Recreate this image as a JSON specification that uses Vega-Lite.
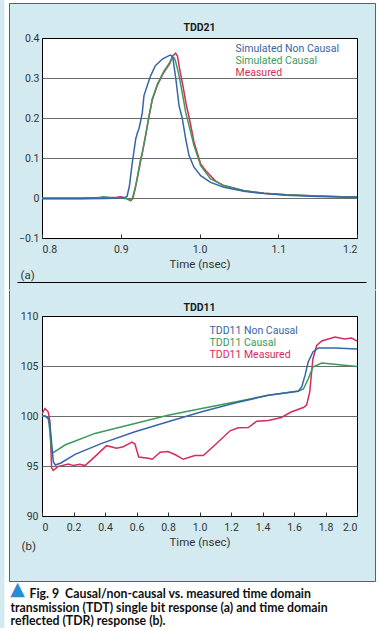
{
  "$schema": "https://vega.github.io/schema/vega-lite/v6.json",
  "background": "#d3ebf0",
  "padding": 0,
  "spacing": 78,
  "bounds": "flush",
  "resolve": {"scale": {"color": "independent"}, "legend": {"color": "independent"}},
  "config": {
    "view": {"fill": "white", "stroke": "black", "strokeWidth": 1},
    "font": "Roboto",
    "axis": {"labelFont": "Roboto", "labelFontSize": 10.5, "labelColor": "#333", "titleFont": "Roboto", "titleFontSize": 11.5, "titleFontWeight": "normal", "titleColor": "#333", "gridColor": "#6b6b6b", "domainCap": "butt"},
    "title": {"font": "Roboto", "fontSize": 10.5, "fontWeight": "bold", "color": "#1a1a1a", "offset": -33, "frame": "group"},
    "legend": {"labelFont": "Roboto", "labelFontSize": 10.5}
  },
  "datasets": {
    "tdd21": [
      {"series": "Measured", "t": 0.80, "v": 0.0},
      {"series": "Measured", "t": 0.85, "v": 0.0},
      {"series": "Measured", "t": 0.88, "v": 0.001},
      {"series": "Measured", "t": 0.895, "v": 0.002},
      {"series": "Measured", "t": 0.90, "v": 0.003},
      {"series": "Measured", "t": 0.905, "v": 0.001},
      {"series": "Measured", "t": 0.91, "v": -0.004},
      {"series": "Measured", "t": 0.9126, "v": -0.007},
      {"series": "Measured", "t": 0.915, "v": -0.002},
      {"series": "Measured", "t": 0.917, "v": 0.012},
      {"series": "Measured", "t": 0.919, "v": 0.03},
      {"series": "Measured", "t": 0.923, "v": 0.07},
      {"series": "Measured", "t": 0.9274, "v": 0.113},
      {"series": "Measured", "t": 0.930, "v": 0.14},
      {"series": "Measured", "t": 0.9316, "v": 0.158},
      {"series": "Measured", "t": 0.936, "v": 0.205},
      {"series": "Measured", "t": 0.940, "v": 0.245},
      {"series": "Measured", "t": 0.9465, "v": 0.282},
      {"series": "Measured", "t": 0.955, "v": 0.315},
      {"series": "Measured", "t": 0.962, "v": 0.335},
      {"series": "Measured", "t": 0.966, "v": 0.355},
      {"series": "Measured", "t": 0.9697, "v": 0.362},
      {"series": "Measured", "t": 0.972, "v": 0.355},
      {"series": "Measured", "t": 0.975, "v": 0.32},
      {"series": "Measured", "t": 0.979, "v": 0.28},
      {"series": "Measured", "t": 0.983, "v": 0.235},
      {"series": "Measured", "t": 0.987, "v": 0.2},
      {"series": "Measured", "t": 0.993, "v": 0.14},
      {"series": "Measured", "t": 1.0015, "v": 0.085},
      {"series": "Measured", "t": 1.008, "v": 0.068},
      {"series": "Measured", "t": 1.012, "v": 0.06},
      {"series": "Measured", "t": 1.02, "v": 0.043},
      {"series": "Measured", "t": 1.031, "v": 0.031},
      {"series": "Measured", "t": 1.0565, "v": 0.018},
      {"series": "Measured", "t": 1.082, "v": 0.012},
      {"series": "Measured", "t": 1.11, "v": 0.008},
      {"series": "Measured", "t": 1.15, "v": 0.005},
      {"series": "Measured", "t": 1.2, "v": 0.002},
      {"series": "Simulated Causal", "t": 0.80, "v": -0.001},
      {"series": "Simulated Causal", "t": 0.85, "v": -0.001},
      {"series": "Simulated Causal", "t": 0.87, "v": 0.0},
      {"series": "Simulated Causal", "t": 0.878, "v": 0.003},
      {"series": "Simulated Causal", "t": 0.885, "v": 0.001},
      {"series": "Simulated Causal", "t": 0.90, "v": 0.0},
      {"series": "Simulated Causal", "t": 0.908, "v": -0.002},
      {"series": "Simulated Causal", "t": 0.9126, "v": -0.006},
      {"series": "Simulated Causal", "t": 0.915, "v": 0.0},
      {"series": "Simulated Causal", "t": 0.917, "v": 0.015},
      {"series": "Simulated Causal", "t": 0.919, "v": 0.031},
      {"series": "Simulated Causal", "t": 0.921, "v": 0.05},
      {"series": "Simulated Causal", "t": 0.923, "v": 0.0725},
      {"series": "Simulated Causal", "t": 0.925, "v": 0.095},
      {"series": "Simulated Causal", "t": 0.9274, "v": 0.114},
      {"series": "Simulated Causal", "t": 0.9316, "v": 0.156},
      {"series": "Simulated Causal", "t": 0.936, "v": 0.206},
      {"series": "Simulated Causal", "t": 0.940, "v": 0.2475},
      {"series": "Simulated Causal", "t": 0.9465, "v": 0.285},
      {"series": "Simulated Causal", "t": 0.955, "v": 0.318},
      {"series": "Simulated Causal", "t": 0.961, "v": 0.335},
      {"series": "Simulated Causal", "t": 0.9655, "v": 0.352},
      {"series": "Simulated Causal", "t": 0.968, "v": 0.35},
      {"series": "Simulated Causal", "t": 0.970, "v": 0.339},
      {"series": "Simulated Causal", "t": 0.974, "v": 0.306},
      {"series": "Simulated Causal", "t": 0.978, "v": 0.264},
      {"series": "Simulated Causal", "t": 0.9825, "v": 0.214},
      {"series": "Simulated Causal", "t": 0.9867, "v": 0.181},
      {"series": "Simulated Causal", "t": 0.993, "v": 0.131},
      {"series": "Simulated Causal", "t": 1.0015, "v": 0.081},
      {"series": "Simulated Causal", "t": 1.014, "v": 0.0475},
      {"series": "Simulated Causal", "t": 1.031, "v": 0.031},
      {"series": "Simulated Causal", "t": 1.0565, "v": 0.018},
      {"series": "Simulated Causal", "t": 1.082, "v": 0.012},
      {"series": "Simulated Causal", "t": 1.11, "v": 0.008},
      {"series": "Simulated Causal", "t": 1.15, "v": 0.005},
      {"series": "Simulated Causal", "t": 1.2, "v": 0.002},
      {"series": "Simulated Non Causal", "t": 0.80, "v": -0.002},
      {"series": "Simulated Non Causal", "t": 0.85, "v": -0.002},
      {"series": "Simulated Non Causal", "t": 0.88, "v": -0.001},
      {"series": "Simulated Non Causal", "t": 0.90, "v": 0.0},
      {"series": "Simulated Non Causal", "t": 0.905, "v": 0.001},
      {"series": "Simulated Non Causal", "t": 0.908, "v": 0.004},
      {"series": "Simulated Non Causal", "t": 0.911, "v": 0.03},
      {"series": "Simulated Non Causal", "t": 0.9126, "v": 0.056},
      {"series": "Simulated Non Causal", "t": 0.9147, "v": 0.089},
      {"series": "Simulated Non Causal", "t": 0.917, "v": 0.12},
      {"series": "Simulated Non Causal", "t": 0.919, "v": 0.1475},
      {"series": "Simulated Non Causal", "t": 0.921, "v": 0.162},
      {"series": "Simulated Non Causal", "t": 0.923, "v": 0.1725},
      {"series": "Simulated Non Causal", "t": 0.925, "v": 0.19},
      {"series": "Simulated Non Causal", "t": 0.9274, "v": 0.214},
      {"series": "Simulated Non Causal", "t": 0.9295, "v": 0.256},
      {"series": "Simulated Non Causal", "t": 0.9337, "v": 0.281},
      {"series": "Simulated Non Causal", "t": 0.938, "v": 0.306},
      {"series": "Simulated Non Causal", "t": 0.944, "v": 0.331},
      {"series": "Simulated Non Causal", "t": 0.9528, "v": 0.3475},
      {"series": "Simulated Non Causal", "t": 0.9613, "v": 0.356},
      {"series": "Simulated Non Causal", "t": 0.9634, "v": 0.3575},
      {"series": "Simulated Non Causal", "t": 0.966, "v": 0.352},
      {"series": "Simulated Non Causal", "t": 0.968, "v": 0.325},
      {"series": "Simulated Non Causal", "t": 0.970, "v": 0.2975},
      {"series": "Simulated Non Causal", "t": 0.974, "v": 0.231},
      {"series": "Simulated Non Causal", "t": 0.978, "v": 0.2},
      {"series": "Simulated Non Causal", "t": 0.9825, "v": 0.1475},
      {"series": "Simulated Non Causal", "t": 0.9867, "v": 0.106},
      {"series": "Simulated Non Causal", "t": 0.993, "v": 0.077},
      {"series": "Simulated Non Causal", "t": 1.0015, "v": 0.056},
      {"series": "Simulated Non Causal", "t": 1.014, "v": 0.039},
      {"series": "Simulated Non Causal", "t": 1.031, "v": 0.027},
      {"series": "Simulated Non Causal", "t": 1.0565, "v": 0.017},
      {"series": "Simulated Non Causal", "t": 1.082, "v": 0.011},
      {"series": "Simulated Non Causal", "t": 1.11, "v": 0.007},
      {"series": "Simulated Non Causal", "t": 1.15, "v": 0.004},
      {"series": "Simulated Non Causal", "t": 1.2, "v": 0.002}
    ],
    "tdd11": [
      {"series": "TDD11 Measured", "t": 0, "v": 100.2},
      {"series": "TDD11 Measured", "t": 0.019, "v": 100.75},
      {"series": "TDD11 Measured", "t": 0.04, "v": 100.4},
      {"series": "TDD11 Measured", "t": 0.05, "v": 99.5},
      {"series": "TDD11 Measured", "t": 0.061, "v": 94.8},
      {"series": "TDD11 Measured", "t": 0.072, "v": 94.55},
      {"series": "TDD11 Measured", "t": 0.10, "v": 94.94},
      {"series": "TDD11 Measured", "t": 0.167, "v": 95.2},
      {"series": "TDD11 Measured", "t": 0.2, "v": 95.04},
      {"series": "TDD11 Measured", "t": 0.24, "v": 95.17},
      {"series": "TDD11 Measured", "t": 0.273, "v": 95.04},
      {"series": "TDD11 Measured", "t": 0.336, "v": 95.94},
      {"series": "TDD11 Measured", "t": 0.41, "v": 97.03},
      {"series": "TDD11 Measured", "t": 0.474, "v": 96.77},
      {"series": "TDD11 Measured", "t": 0.516, "v": 96.93},
      {"series": "TDD11 Measured", "t": 0.571, "v": 97.38},
      {"series": "TDD11 Measured", "t": 0.59, "v": 97.2},
      {"series": "TDD11 Measured", "t": 0.614, "v": 95.9},
      {"series": "TDD11 Measured", "t": 0.675, "v": 95.77},
      {"series": "TDD11 Measured", "t": 0.70, "v": 95.67},
      {"series": "TDD11 Measured", "t": 0.75, "v": 96.37},
      {"series": "TDD11 Measured", "t": 0.80, "v": 96.44},
      {"series": "TDD11 Measured", "t": 0.85, "v": 96.1},
      {"series": "TDD11 Measured", "t": 0.897, "v": 95.67},
      {"series": "TDD11 Measured", "t": 0.97, "v": 96.04},
      {"series": "TDD11 Measured", "t": 1.024, "v": 96.04},
      {"series": "TDD11 Measured", "t": 1.098, "v": 97.1},
      {"series": "TDD11 Measured", "t": 1.194, "v": 98.52},
      {"series": "TDD11 Measured", "t": 1.246, "v": 98.82},
      {"series": "TDD11 Measured", "t": 1.31, "v": 98.85},
      {"series": "TDD11 Measured", "t": 1.363, "v": 99.48},
      {"series": "TDD11 Measured", "t": 1.437, "v": 99.55},
      {"series": "TDD11 Measured", "t": 1.52, "v": 99.85},
      {"series": "TDD11 Measured", "t": 1.585, "v": 100.42},
      {"series": "TDD11 Measured", "t": 1.66, "v": 100.85},
      {"series": "TDD11 Measured", "t": 1.68, "v": 101.1},
      {"series": "TDD11 Measured", "t": 1.70, "v": 102.4},
      {"series": "TDD11 Measured", "t": 1.72, "v": 105.7},
      {"series": "TDD11 Measured", "t": 1.744, "v": 107.05},
      {"series": "TDD11 Measured", "t": 1.776, "v": 107.5},
      {"series": "TDD11 Measured", "t": 1.86, "v": 107.9},
      {"series": "TDD11 Measured", "t": 1.92, "v": 107.7},
      {"series": "TDD11 Measured", "t": 1.966, "v": 107.8},
      {"series": "TDD11 Measured", "t": 2.0, "v": 107.5},
      {"series": "TDD11 Causal", "t": 0, "v": 100.0},
      {"series": "TDD11 Causal", "t": 0.02, "v": 100.0},
      {"series": "TDD11 Causal", "t": 0.04, "v": 99.7},
      {"series": "TDD11 Causal", "t": 0.05, "v": 98.5},
      {"series": "TDD11 Causal", "t": 0.061, "v": 96.44},
      {"series": "TDD11 Causal", "t": 0.072, "v": 96.34},
      {"series": "TDD11 Causal", "t": 0.146, "v": 97.1},
      {"series": "TDD11 Causal", "t": 0.336, "v": 98.26},
      {"series": "TDD11 Causal", "t": 0.59, "v": 99.25},
      {"series": "TDD11 Causal", "t": 0.80, "v": 100.08},
      {"series": "TDD11 Causal", "t": 1.014, "v": 100.75},
      {"series": "TDD11 Causal", "t": 1.225, "v": 101.41},
      {"series": "TDD11 Causal", "t": 1.437, "v": 102.07},
      {"series": "TDD11 Causal", "t": 1.627, "v": 102.5},
      {"series": "TDD11 Causal", "t": 1.66, "v": 102.7},
      {"series": "TDD11 Causal", "t": 1.69, "v": 103.7},
      {"series": "TDD11 Causal", "t": 1.72, "v": 104.9},
      {"series": "TDD11 Causal", "t": 1.776, "v": 105.3},
      {"series": "TDD11 Causal", "t": 1.84, "v": 105.2},
      {"series": "TDD11 Causal", "t": 2.0, "v": 104.96},
      {"series": "TDD11 Non Causal", "t": 0, "v": 100.0},
      {"series": "TDD11 Non Causal", "t": 0.02, "v": 100.0},
      {"series": "TDD11 Non Causal", "t": 0.04, "v": 99.8},
      {"series": "TDD11 Non Causal", "t": 0.05, "v": 99.2},
      {"series": "TDD11 Non Causal", "t": 0.06, "v": 97.5},
      {"series": "TDD11 Non Causal", "t": 0.072, "v": 95.4},
      {"series": "TDD11 Non Causal", "t": 0.085, "v": 95.1},
      {"series": "TDD11 Non Causal", "t": 0.12, "v": 95.3},
      {"series": "TDD11 Non Causal", "t": 0.21, "v": 96.17},
      {"series": "TDD11 Non Causal", "t": 0.379, "v": 97.26},
      {"series": "TDD11 Non Causal", "t": 0.59, "v": 98.43},
      {"series": "TDD11 Non Causal", "t": 0.80, "v": 99.42},
      {"series": "TDD11 Non Causal", "t": 1.014, "v": 100.42},
      {"series": "TDD11 Non Causal", "t": 1.225, "v": 101.3},
      {"series": "TDD11 Non Causal", "t": 1.437, "v": 102.07},
      {"series": "TDD11 Non Causal", "t": 1.627, "v": 102.47},
      {"series": "TDD11 Non Causal", "t": 1.649, "v": 102.9},
      {"series": "TDD11 Non Causal", "t": 1.67, "v": 104.06},
      {"series": "TDD11 Non Causal", "t": 1.69, "v": 105.4},
      {"series": "TDD11 Non Causal", "t": 1.72, "v": 106.4},
      {"series": "TDD11 Non Causal", "t": 1.755, "v": 106.8},
      {"series": "TDD11 Non Causal", "t": 1.86, "v": 106.8},
      {"series": "TDD11 Non Causal", "t": 2.0, "v": 106.7}
    ]
  },
  "vconcat": [
    {
      "width": 315,
      "height": 200,
      "title": {"text": "TDD21"},
      "layer": [
        {
          "data": {"name": "tdd21"},
          "mark": {"type": "line", "strokeWidth": 1.5, "clip": true},
          "encoding": {
            "x": {"field": "t", "type": "quantitative", "scale": {"domain": [0.8, 1.2], "nice": false, "zero": false},
              "axis": {"values": [0.8, 0.9, 1.0, 1.1, 1.2], "format": ".1f", "title": "Time (nsec)", "grid": false, "domain": false, "tickSize": -4, "tickColor": "#333", "labelPadding": 10, "titlePadding": 4}},
            "y": {"field": "v", "type": "quantitative", "scale": {"domain": [-0.1, 0.4], "nice": false, "zero": false},
              "axis": {"values": [-0.1, 0, 0.1, 0.2, 0.3, 0.4], "labelExpr": "datum.value === 0 ? '0' : format(datum.value, '.1f')", "grid": true,
                "gridColor": {"condition": {"test": "datum.value < -0.05 || datum.value > 0.35", "value": "black"}, "value": "#6b6b6b"},
                "ticks": false, "domain": false, "labelPadding": 3, "title": "(a)", "titleAngle": 0, "titleAlign": "left", "titleBaseline": "middle", "titleX": -22, "titleY": 237}},
            "color": {"field": "series", "type": "nominal",
              "scale": {"domain": ["Simulated Non Causal", "Simulated Causal", "Measured"], "range": ["#3566a8", "#3c9a5a", "#d42c5c"]},
              "legend": {"orient": "none", "legendX": 183, "legendY": 6, "title": null, "symbolSize": 0, "symbolStrokeWidth": 0, "symbolOpacity": 0, "labelOffset": 0, "rowPadding": 1, "padding": 0, "labelLimit": 300,
                "encode": {"labels": {"update": {"fill": {"signal": "datum.value === 'Measured' ? '#d42c5c' : datum.value === 'Simulated Causal' ? '#3c9a5a' : '#3566a8'"}}}}}}
          }
        },
        {
          "data": {"values": [{}]},
          "mark": {"type": "point", "opacity": 0},
          "encoding": {
            "x": {"datum": 0, "type": "quantitative", "scale": {"domain": [0, 1], "range": [-33, 333]},
              "axis": {"orient": "top", "offset": 35, "labels": false, "ticks": false, "grid": false, "title": null, "domainColor": "#b03a4e", "domainWidth": 1}},
            "y": {"datum": 0, "type": "quantitative", "scale": {"domain": [0, 1], "range": [251, -35]},
              "axis": {"orient": "left", "offset": 33, "labels": false, "ticks": false, "grid": false, "title": null, "domainColor": "#b03a4e", "domainWidth": 1}}
          }
        },
        {
          "data": {"values": [{}]},
          "mark": {"type": "point", "opacity": 0},
          "encoding": {
            "x": {"datum": 0, "type": "quantitative", "scale": {"domain": [0, 1], "range": [-25, 324]},
              "axis": {"orient": "bottom", "offset": 44, "labels": false, "ticks": false, "grid": false, "title": null, "domainColor": "black", "domainWidth": 1}},
            "y": {"datum": 0, "type": "quantitative", "scale": {"domain": [0, 1], "range": [251, -35]},
              "axis": {"orient": "right", "offset": 18, "labels": false, "ticks": false, "grid": false, "title": null, "domainColor": "#b03a4e", "domainWidth": 1}}
          }
        },
        {
          "data": {"values": [{}]},
          "mark": {"type": "point", "opacity": 0},
          "encoding": {
            "x": {"datum": 0, "type": "quantitative", "scale": {"domain": [0, 1], "range": [-38, 341]},
              "axis": {"orient": "top", "offset": 37.25, "labels": false, "ticks": false, "grid": false, "title": null, "domainColor": "white", "domainWidth": 3.5}},
            "y": {"datum": 0, "type": "quantitative", "scale": {"domain": [0, 1], "range": [251, -39]},
              "axis": {"orient": "left", "offset": 35.75, "labels": false, "ticks": false, "grid": false, "title": null, "domainColor": "white", "domainWidth": 4.5}}
          }
        },
        {
          "data": {"values": [{}]},
          "mark": {"type": "point", "opacity": 0},
          "encoding": {
            "y": {"datum": 0, "type": "quantitative", "scale": {"domain": [0, 1], "range": [251, -39]},
              "axis": {"orient": "right", "offset": 22.25, "labels": false, "ticks": false, "grid": false, "title": null, "domainColor": "white", "domainWidth": 7.5}}
          }
        }
      ],
      "resolve": {"scale": {"x": "independent", "y": "independent"}, "axis": {"x": "independent", "y": "independent"}}
    },
    {
      "width": 315,
      "height": 200,
      "title": {"text": "TDD11", "offset": -2},
      "layer": [
        {
          "data": {"name": "tdd11"},
          "mark": {"type": "line", "strokeWidth": 1.5, "clip": true},
          "encoding": {
            "x": {"field": "t", "type": "quantitative", "scale": {"domain": [0, 2], "nice": false, "zero": false},
              "axis": {"values": [0, 0.2, 0.4, 0.6, 0.8, 1.0, 1.2, 1.4, 1.6, 1.8, 2.0], "labelExpr": "datum.value === 0 ? '0' : format(datum.value, '.1f')", "title": "Time (nsec)", "grid": false, "domain": false, "tickSize": -4, "tickColor": "#333", "labelPadding": 10, "titlePadding": 4}},
            "y": {"field": "v", "type": "quantitative", "scale": {"domain": [90, 110], "nice": false, "zero": false},
              "axis": {"values": [90, 95, 100, 105, 110], "grid": true,
                "gridColor": {"condition": {"test": "datum.value < 91 || datum.value > 109", "value": "black"}, "value": "#6b6b6b"},
                "ticks": false, "domain": false, "labelPadding": 4, "title": "(b)", "titleAngle": 0, "titleAlign": "left", "titleBaseline": "middle", "titleX": -21, "titleY": 230}},
            "color": {"field": "series", "type": "nominal",
              "scale": {"domain": ["TDD11 Non Causal", "TDD11 Causal", "TDD11 Measured"], "range": ["#3566a8", "#3c9a5a", "#d42c5c"]},
              "legend": {"orient": "none", "legendX": 157, "legendY": 10, "title": null, "symbolSize": 0, "symbolStrokeWidth": 0, "symbolOpacity": 0, "labelOffset": 0, "rowPadding": 1, "padding": 0, "labelLimit": 300,
                "encode": {"labels": {"update": {"fill": {"signal": "datum.value === 'TDD11 Measured' ? '#d42c5c' : datum.value === 'TDD11 Causal' ? '#3c9a5a' : '#3566a8'"}}}}}}
          }
        },
        {
          "data": {"values": [{}]},
          "mark": {"type": "point", "opacity": 0},
          "encoding": {
            "x": {"datum": 0, "type": "quantitative", "scale": {"domain": [0, 1], "range": [-33, 333]},
              "axis": {"orient": "bottom", "offset": 65, "labels": false, "ticks": false, "grid": false, "title": null, "domainColor": "#b03a4e", "domainWidth": 1}},
            "y": {"datum": 0, "type": "quantitative", "scale": {"domain": [0, 1], "range": [265, -26]},
              "axis": {"orient": "left", "offset": 33, "labels": false, "ticks": false, "grid": false, "title": null, "domainColor": "#b03a4e", "domainWidth": 1}}
          }
        },
        {
          "data": {"values": [{}]},
          "mark": {"type": "point", "opacity": 0},
          "encoding": {
            "x": {"datum": 0, "type": "quantitative", "scale": {"domain": [0, 1], "range": [-38, 341]},
              "axis": {"orient": "bottom", "offset": 90, "labels": false, "ticks": false, "grid": false, "title": null, "domainColor": "white", "domainWidth": 49}},
            "y": {"datum": 0, "type": "quantitative", "scale": {"domain": [0, 1], "range": [265, -26]},
              "axis": {"orient": "right", "offset": 18, "labels": false, "ticks": false, "grid": false, "title": null, "domainColor": "#b03a4e", "domainWidth": 1}}
          }
        },
        {
          "data": {"values": [{}]},
          "mark": {"type": "point", "opacity": 0},
          "encoding": {
            "y": {"datum": 0, "type": "quantitative", "scale": {"domain": [0, 1], "range": [265, -27]},
              "axis": {"orient": "left", "offset": 35.75, "labels": false, "ticks": false, "grid": false, "title": null, "domainColor": "white", "domainWidth": 4.5}}
          }
        },
        {
          "data": {"values": [{}]},
          "mark": {"type": "point", "opacity": 0},
          "encoding": {
            "y": {"datum": 0, "type": "quantitative", "scale": {"domain": [0, 1], "range": [265, -27]},
              "axis": {"orient": "right", "offset": 22.25, "labels": false, "ticks": false, "grid": false, "title": null, "domainColor": "white", "domainWidth": 7.5}}
          }
        },
        {
          "data": {"values": [{}]},
          "mark": {"type": "point", "opacity": 0},
          "encoding": {
            "x": {"datum": 0, "type": "quantitative", "scale": {"domain": [0, 1]},
              "axis": {"orient": "bottom", "offset": 0, "zindex": 2, "domain": false, "labels": false, "ticks": false, "grid": false,
                "title": "Fig. 9\u00a0\u00a0Causal/non-causal vs. measured time domain",
                "titleX": -13, "titleY": 71.5, "titleAlign": "left", "titleBaseline": "top", "titleAngle": 0, "titleFont": "Lato", "titleFontSize": 12.3, "titleFontWeight": "bold", "titleColor": "#111"}},
            "y": {"datum": 0, "type": "quantitative", "scale": {"domain": [0, 1]},
              "axis": {"orient": "left", "offset": 0, "zindex": 2, "domain": false, "labels": false, "ticks": false, "grid": false,
                "title": "\u25b2", "titleX": -25, "titleY": 272, "titleAlign": "center", "titleBaseline": "middle", "titleAngle": 0, "titleFont": "DejaVu Sans", "titleFontSize": 19, "titleFontWeight": "normal", "titleColor": "#2b8ad4"}}
          }
        },
        {
          "data": {"values": [{}]},
          "mark": {"type": "point", "opacity": 0},
          "encoding": {
            "x": {"datum": 0, "type": "quantitative", "scale": {"domain": [0, 1]},
              "axis": {"orient": "bottom", "offset": 0, "zindex": 2, "domain": false, "labels": false, "ticks": false, "grid": false,
                "title": ["transmission (TDT) single bit response (a) and time domain", "reflected (TDR) response (b)."],
                "titleX": -32, "titleY": 85, "titleAlign": "left", "titleBaseline": "top", "titleAngle": 0, "titleFont": "Lato", "titleFontSize": 12.3, "titleFontWeight": "bold", "titleColor": "#111", "titleLineHeight": 13.5}}
          }
        }
      ],
      "resolve": {"scale": {"x": "independent", "y": "independent"}, "axis": {"x": "independent", "y": "independent"}}
    }
  ]
}
